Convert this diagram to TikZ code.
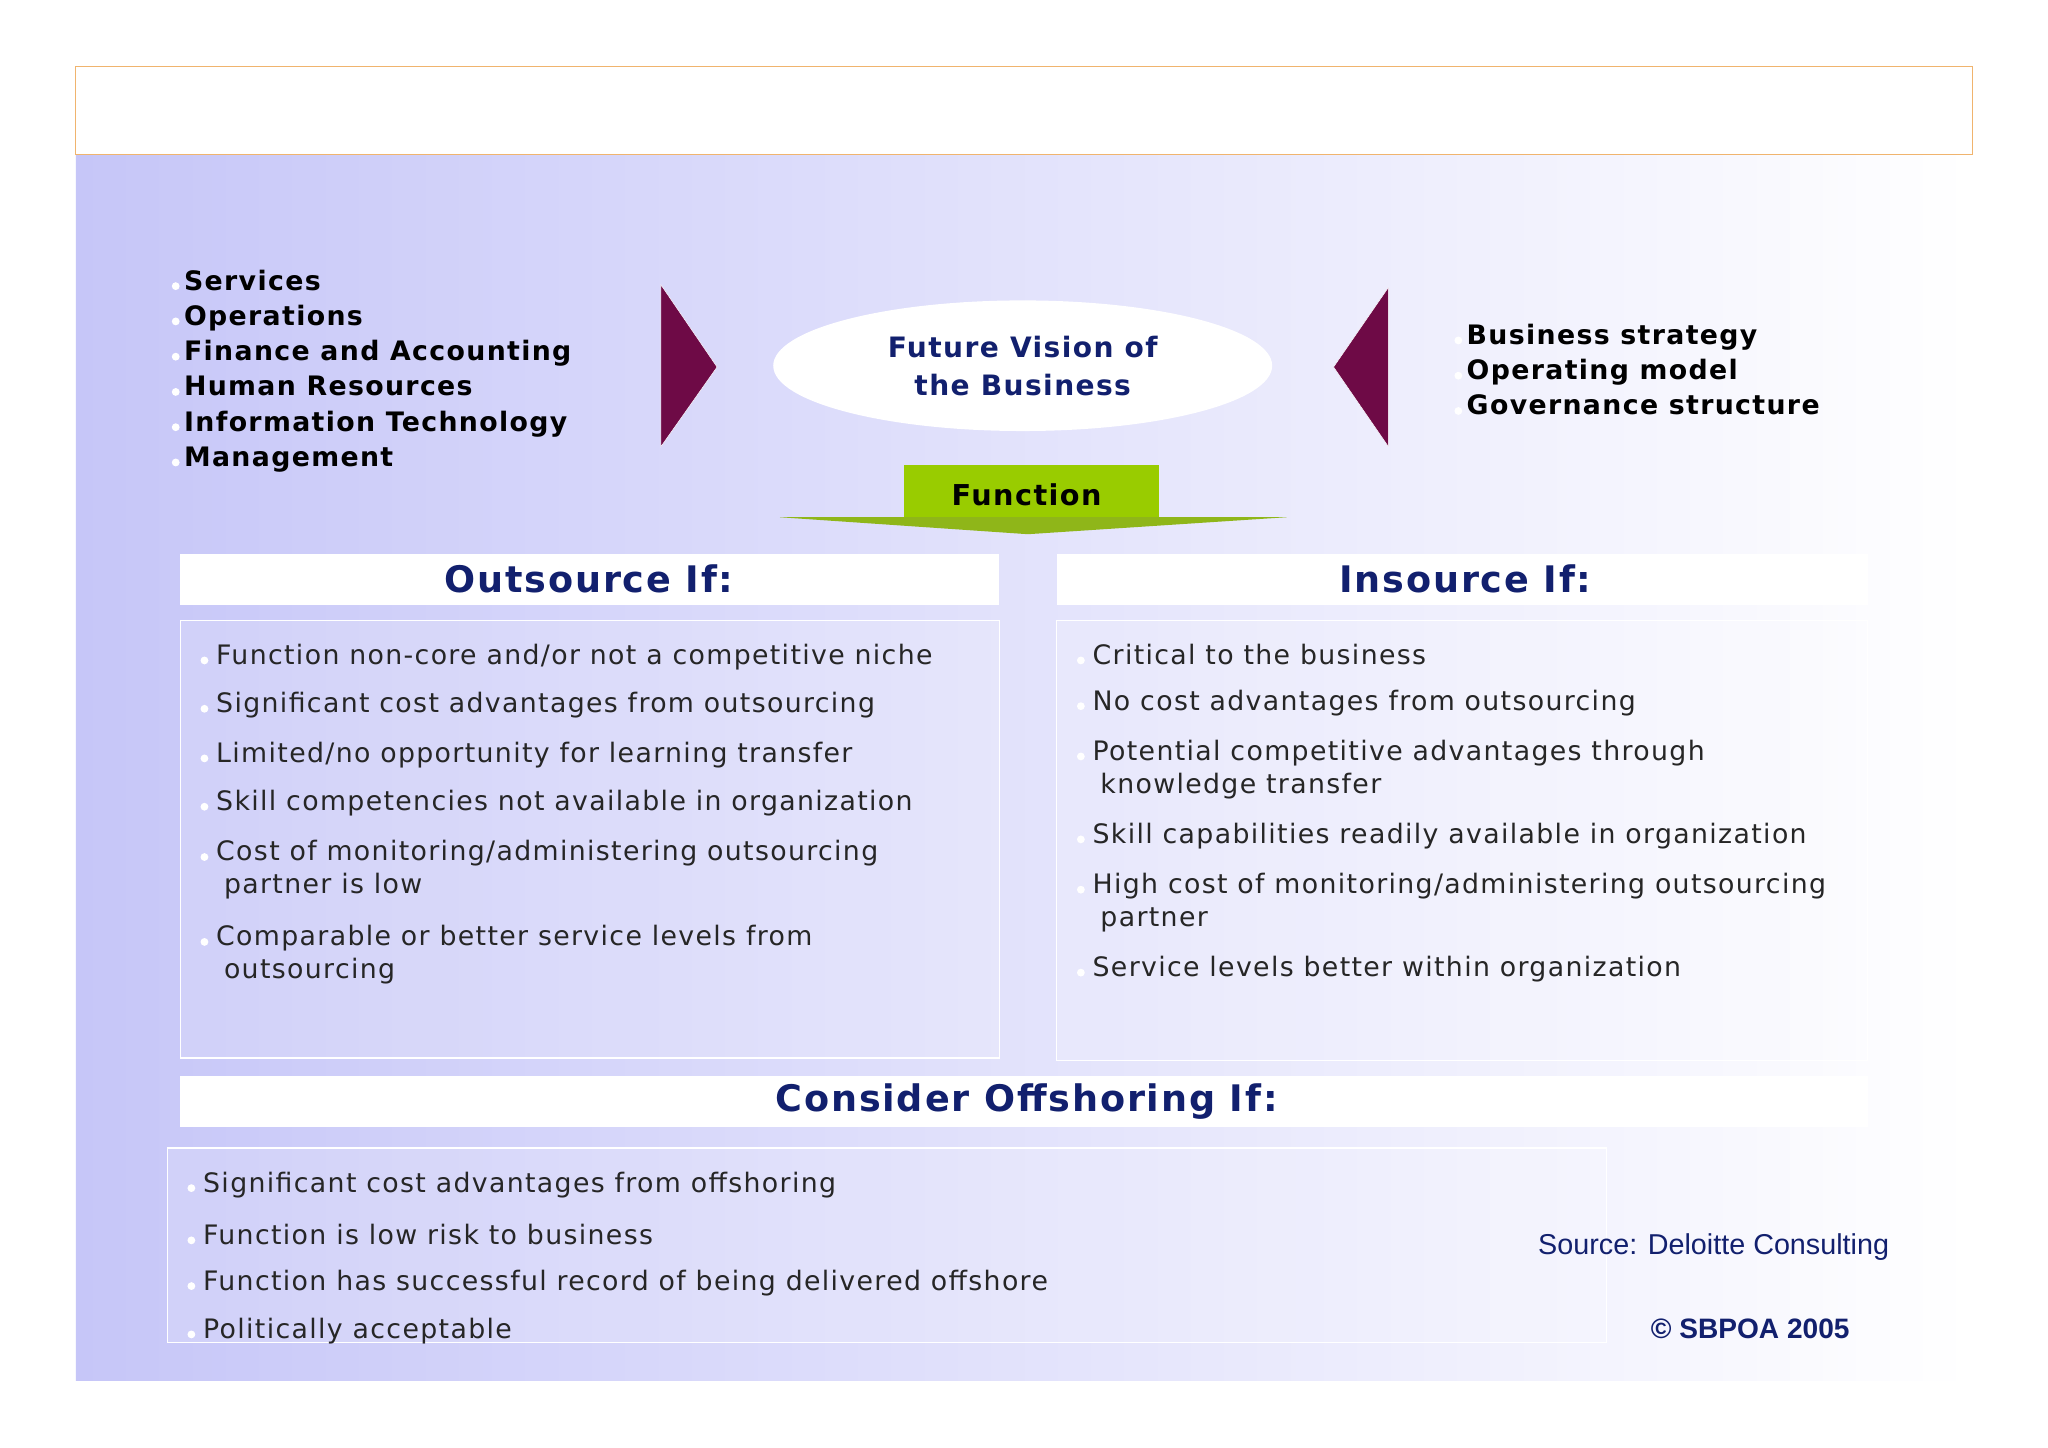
\documentclass[tikz,border=0pt]{standalone}
\usepackage{fontspec}
\setmainfont[LetterSpace=5]{DejaVu Sans}
\newfontfamily\arial{Liberation Sans}
\usetikzlibrary{shapes.geometric}
\definecolor{navy}{HTML}{12206E}
\definecolor{plum}{HTML}{6E0A46}
\definecolor{fgreen}{HTML}{99CC00}
\definecolor{lav}{HTML}{C6C6F8}
\tikzset{
 bodybox/.style={draw=white,line width=1pt,fill=white,fill opacity=0.15},
 itm/.style={anchor=west,font=\fontsize{20.5}{27}\selectfont,text=black!85,align=left},
 lst/.style={anchor=west,font=\fontsize{20.5}{27}\selectfont\bfseries,align=left},
 head/.style={font=\fontsize{28}{32}\selectfont\bfseries,text=navy},
 dot/.style={circle,fill=white,inner sep=0pt,minimum size=6pt}
}
\newcommand{\bl}{\tikz[baseline=-3pt]\node[dot]{};\,}
\newcommand{\bll}{\tikz[baseline=-3pt]\node[dot]{};\hspace{6pt}}
\begin{document}
\begin{tikzpicture}[x=1pt,y=-1pt]
\useasboundingbox (0,0) rectangle (1568,1108);
\fill[white] (0,0) rectangle (1568,1108);
\shade[left color=lav,right color=white] (58,118) rectangle (1510,1057);
\draw[draw={rgb,255:red,240;green,180;blue,110},fill=white] (58,51) rectangle (1510,118);
\node[lst] (ll) at (128,284) {\bl Services\\\bl Operations\\\bl Finance and Accounting\\\bl Human Resources\\\bl Information Technology\\\bl Management};
\node[lst] (rl) at (1110,283) {\bl Business strategy\\\bl Operating model\\\bl Governance structure};
\fill[plum,draw=white] (506,218) -- (549,281) -- (506,342) -- cycle;
\fill[plum,draw=white] (1063,220) -- (1021,281) -- (1063,342) -- cycle;
\node[ellipse,fill=white,minimum width=382pt,minimum height=100pt,align=center,font=\fontsize{21.5}{29}\selectfont\bfseries,text=navy] (fv) at (783,280) {Future Vision of\\the Business};
\fill[fgreen] (692,356) rectangle (887,397);
\fill[fgreen!85!black!90] (597,396) -- (985,396) -- (787,409) -- cycle;
\node[font=\fontsize{22}{24}\selectfont\bfseries] (fn) at (786,379) {Function};
\fill[white] (138,424) rectangle (765,463);
\node[head] (oh) at (451,443) {Outsource If:};
\fill[white] (809,424) rectangle (1430,463);
\node[head] (ih) at (1122,443) {Insource If:};
\fill[white] (138,824) rectangle (1430,863);
\node[head] (ch) at (786,843) {Consider Offshoring If:};
\draw[bodybox] (138,475) rectangle (765,810);
\draw[bodybox] (809,475) rectangle (1430,812);
\draw[bodybox] (128,879) rectangle (1230,1028);
\begin{scope}[every node/.style={itm}]
\node (o1) at (150,503) {\bll Function non-core and/or not a competitive niche};
\node (o2) at (150,540) {\bll Significant cost advantages from outsourcing};
\node (o3) at (150,578) {\bll Limited/no opportunity for learning transfer};
\node (o4) at (150,615) {\bll Skill competencies not available in organization};
\node (o5) at (150,666) {\bll Cost of monitoring/administering outsourcing\\[-2pt]\hspace*{18pt}partner is low};
\node (o6) at (150,731) {\bll Comparable or better service levels from\\[-2pt]\hspace*{18pt}outsourcing};
\node (i1) at (821,501) {\bll Critical to the business};
\node (i2) at (821,538) {\bll No cost advantages from outsourcing};
\node (i3) at (821,589) {\bll Potential competitive advantages through\\[-2pt]\hspace*{18pt}knowledge transfer};
\node (i4) at (821,640) {\bll Skill capabilities readily available in organization};
\node (i5) at (821,691) {\bll High cost of monitoring/administering outsourcing\\[-2pt]\hspace*{18pt}partner};
\node (i6) at (821,742) {\bll Service levels better within organization};
\node (c1) at (140,907) {\bll Significant cost advantages from offshoring};
\node (c2) at (140,945) {\bll Function is low risk to business};
\node (c3) at (140,982) {\bll Function has successful record of being delivered offshore};
\node (c4) at (140,1019) {\bll Politically acceptable};
\end{scope}
\node[font=\arial\fontsize{22}{24}\selectfont,text=navy] (src) at (1312,955) {Source: Deloitte Consulting};
\node[font=\arial\fontsize{21.5}{24}\selectfont\bfseries,text=navy] (cp) at (1340,1017) {© SBPOA 2005};
\end{tikzpicture}
\end{document}
